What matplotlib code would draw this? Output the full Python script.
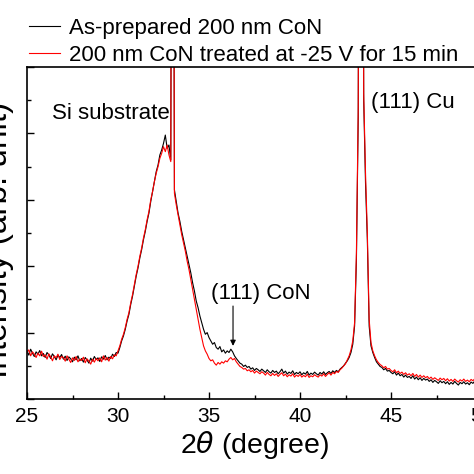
import numpy as np
import matplotlib
matplotlib.use("Agg")
import matplotlib.pyplot as plt
from matplotlib.ticker import MultipleLocator

plt.rcParams['font.family'] = ['Liberation Sans', 'DejaVu Sans']

# 2theta grid (degrees), 0.1 step from 25 to 50
two_theta = np.round(np.arange(25.0, 50.05, 0.1), 2)

as_prepared = [
    1.45, 1.32, 1.50, 1.38, 1.28, 1.42, 1.35, 1.46, 1.30, 1.37,
    1.25, 1.40, 1.33, 1.22, 1.36, 1.28, 1.18, 1.32, 1.25, 1.34,
    1.20, 1.29, 1.16, 1.27, 1.21, 1.12, 1.26, 1.18, 1.30, 1.15,
    1.22, 1.11, 1.25, 1.17, 1.08, 1.23, 1.14, 1.28, 1.19, 1.24,
    1.13, 1.27, 1.20, 1.31, 1.18, 1.26, 1.22, 1.35, 1.28, 1.40,
    1.38, 1.55, 1.75, 1.90, 2.10, 2.35, 2.55, 2.85, 3.10, 3.40,
    3.70, 3.95, 4.25, 4.50, 4.80, 5.05, 5.35, 5.60, 5.95, 6.25,
    6.55, 6.85, 7.05, 7.35, 7.50, 7.70, 7.95, 7.55, 7.65, 7.20,
    30.0, 6.30, 5.95, 5.60, 5.35, 5.05, 4.80, 4.55, 4.30, 4.05,
    3.80, 3.50, 3.25, 2.95, 2.75, 2.50, 2.30, 2.10, 1.95, 2.00,
    1.85, 1.75, 1.65, 1.70, 1.55, 1.50, 1.58, 1.42, 1.48, 1.38,
    1.45, 1.40, 1.50, 1.42, 1.30, 1.22, 1.15, 1.08, 1.05, 0.98,
    1.02, 0.95, 0.98, 0.90, 0.94, 0.86, 0.92, 0.88, 0.83, 0.90,
    0.85, 0.80, 0.88, 0.82, 0.78, 0.86, 0.80, 0.84, 0.76, 0.82,
    0.90, 0.78, 0.84, 0.75, 0.81, 0.77, 0.85, 0.74, 0.80, 0.76,
    0.82, 0.73, 0.79, 0.75, 0.83, 0.72, 0.78, 0.74, 0.81, 0.76,
    0.72, 0.80, 0.75, 0.82, 0.74, 0.79, 0.83, 0.77, 0.85, 0.80,
    0.86, 0.82, 0.90, 0.95, 1.00, 1.08, 1.15, 1.25, 1.40, 1.65,
    2.20, 4.20, 8.50, 30.0, 30.0, 9.00, 6.50, 4.80, 2.20, 1.60,
    1.40, 1.25, 1.12, 1.05, 0.98, 0.95, 0.88, 0.92, 0.84, 0.86,
    0.80, 0.76, 0.82, 0.72, 0.78, 0.70, 0.74, 0.66, 0.72, 0.65,
    0.68, 0.62, 0.70, 0.60, 0.66, 0.58, 0.64, 0.56, 0.62, 0.57,
    0.60, 0.53, 0.58, 0.50, 0.56, 0.52, 0.47, 0.55, 0.49, 0.53,
    0.46, 0.52, 0.44, 0.50, 0.45, 0.53, 0.47, 0.42, 0.50, 0.46,
    0.52, 0.45, 0.49, 0.43, 0.51, 0.47, 0.54, 0.46, 0.50, 0.48,
    0.52,
]

treated = [
    1.40, 1.48, 1.30, 1.42, 1.35, 1.25, 1.38, 1.30, 1.44, 1.28,
    1.33, 1.20, 1.36, 1.27, 1.15, 1.30, 1.24, 1.35, 1.19, 1.28,
    1.25, 1.14, 1.30, 1.20, 1.10, 1.24, 1.16, 1.28, 1.12, 1.20,
    1.16, 1.26, 1.09, 1.21, 1.14, 1.05, 1.20, 1.11, 1.22, 1.15,
    1.24, 1.12, 1.30, 1.17, 1.25, 1.14, 1.28, 1.21, 1.33, 1.30,
    1.45, 1.60, 1.80, 1.95, 2.15, 2.40, 2.60, 2.90, 3.15, 3.45,
    3.75, 4.00, 4.30, 4.55, 4.85, 5.10, 5.40, 5.65, 6.00, 6.25,
    6.55, 6.80, 7.00, 7.25, 7.40, 7.60, 7.45, 7.65, 7.35, 7.15,
    30.0, 6.20, 5.85, 5.55, 5.25, 4.95, 4.70, 4.45, 4.15, 3.90,
    3.60, 3.30, 3.00, 2.70, 2.40, 2.10, 1.85, 1.60, 1.45, 1.35,
    1.22, 1.15, 1.18, 1.08, 1.02, 1.10, 1.05, 1.12, 1.08, 1.15,
    1.12, 1.20, 1.25, 1.18, 1.22, 1.12, 1.05, 0.98, 0.95, 0.90,
    0.92, 0.85, 0.88, 0.82, 0.86, 0.78, 0.84, 0.80, 0.76, 0.82,
    0.78, 0.72, 0.80, 0.74, 0.70, 0.77, 0.71, 0.76, 0.68, 0.74,
    0.79, 0.70, 0.75, 0.67, 0.73, 0.69, 0.76, 0.66, 0.72, 0.68,
    0.74, 0.66, 0.71, 0.67, 0.75, 0.65, 0.70, 0.67, 0.73, 0.69,
    0.66, 0.73, 0.69, 0.76, 0.68, 0.74, 0.79, 0.72, 0.80, 0.76,
    0.83, 0.80, 0.88, 0.93, 1.00, 1.06, 1.18, 1.30, 1.48, 1.75,
    2.30, 4.40, 8.80, 30.0, 30.0, 9.20, 6.80, 5.00, 2.40, 1.70,
    1.45, 1.30, 1.18, 1.10, 1.04, 1.00, 0.94, 0.98, 0.90, 0.92,
    0.86, 0.82, 0.88, 0.79, 0.84, 0.77, 0.81, 0.74, 0.79, 0.72,
    0.76, 0.70, 0.77, 0.68, 0.74, 0.66, 0.72, 0.65, 0.70, 0.64,
    0.68, 0.61, 0.66, 0.59, 0.64, 0.60, 0.56, 0.63, 0.58, 0.62,
    0.55, 0.61, 0.54, 0.59, 0.53, 0.60, 0.55, 0.51, 0.58, 0.54,
    0.60, 0.53, 0.57, 0.52, 0.59, 0.55, 0.61, 0.54, 0.58, 0.56,
    0.60,
]

labels = ["As-prepared 200 nm CoN", "200 nm CoN treated at -25 V for 15 min"]
x_ticks = [25, 30, 35, 40, 45, 50]

fig = plt.figure(figsize=(4.74, 4.74), dpi=100)
ax = fig.add_axes([27/474, 75/474, 455/474, 332/474])

ax.plot(two_theta, as_prepared, color='black', lw=0.8, label=labels[0])
ax.plot(two_theta, treated, color='#ff0000', lw=0.8, label=labels[1])

ax.set_xlim(25, 50)
ax.set_ylim(0, 10)
ax.set_xticks(x_ticks)
ax.set_xticklabels([str(t) for t in x_ticks])
ax.xaxis.set_minor_locator(MultipleLocator(2.5))
ax.yaxis.set_major_locator(MultipleLocator(2))
ax.yaxis.set_minor_locator(MultipleLocator(1))
ax.tick_params(which='both', direction='in', width=1.0)
ax.tick_params(which='major', length=5)
ax.tick_params(which='minor', length=3)
ax.tick_params(axis='x', labelsize=15, pad=6)
ax.tick_params(axis='y', labelleft=False)
for s in ax.spines.values():
    s.set_linewidth(1.2)

ax.set_xlabel(r'2$\theta$ (degree)', fontsize=20.5, labelpad=2)
fig.text(14/474, 1 - 240/474, 'Intensity (arb. unit)', rotation=90,
         ha='right', va='center', fontsize=24)

ax.text(26.37, 8.61, 'Si substrate', fontsize=16, ha='left', va='center')
ax.text(43.9, 8.92, '(111) Cu', fontsize=16, ha='left', va='center')
ax.text(35.1, 3.19, '(111) CoN', fontsize=16, ha='left', va='center')
ax.annotate('', xy=(36.32, 1.6), xytext=(36.32, 2.8),
            arrowprops=dict(arrowstyle='-|>', color='black', lw=0.8,
                            mutation_scale=8, shrinkA=0, shrinkB=0))

fig.legend(loc='upper left', bbox_to_anchor=(29/474, 1 - 18/474),
           frameon=False, fontsize=16, handlelength=1.4, handletextpad=0.4,
           labelspacing=0.25, borderpad=0, borderaxespad=0)

fig.savefig('out.png', dpi=100)
